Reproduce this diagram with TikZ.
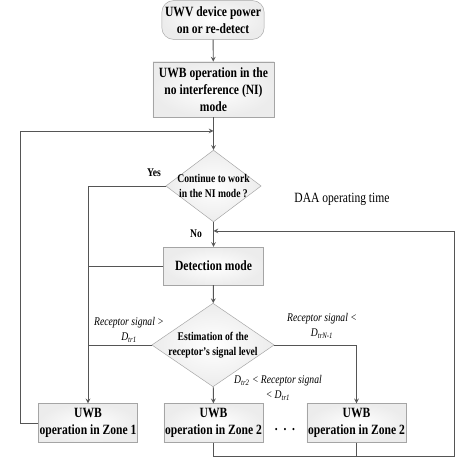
\documentclass[tikz,border=0pt]{standalone}
\usepackage{fontspec}
\setmainfont{Liberation Serif}[FakeStretch=0.82]
\usetikzlibrary{shapes}

\definecolor{lineGray}{RGB}{85,85,85}
\definecolor{boxGray}{RGB}{165,165,165}
\definecolor{boxEdge}{RGB}{236,236,236}
\newcommand{\Dtr}[1]{D\textsubscript{#1}}

\begin{document}
\begin{tikzpicture}
[x=0.85pt,y=-0.85pt,%
  lineDecorate/.style={-,draw=lineGray,line width=0.8pt},
  arrowDecorate/.style={lineDecorate,->,>=stealth},
  boxDecorate/.style={shape=rectangle,draw=boxGray,shading=radial,
    inner color=white,outer color=boxEdge,align=center,
    inner sep=1pt,font=\fontsize{12}{14.5}\selectfont\bfseries},
  diamondDecorate/.style={shape=diamond,draw=boxGray,shading=radial,
    inner color=white,outer color=boxEdge,inner sep=0pt},
  diamondText/.style={align=center,font=\fontsize{10}{12.5}\selectfont\bfseries},
  flowLabel/.style={font=\fontsize{10}{12}\selectfont\bfseries},
  condLabel/.style={align=center,font=\fontsize{10}{12.5}\selectfont\itshape}]
\useasboundingbox[fill=white] (0,0) rectangle (474,466);
%%
%%%%%%%%%%%%%%%%%%%%%%%%%%%%%%%%%%%%%%%%%%%%%%%%%%%%%%%%%%%%%%%%%%%%%%%%%%%
%%
%% boxes
\node (start) at (213,20) [boxDecorate,rounded corners=10pt,
  minimum width=87pt,minimum height=33pt] {UWV device power\\on or re-detect};
\node (ni) at (213.5,89.5) [boxDecorate,minimum width=103pt,minimum height=47pt]
  {UWB operation in the\\no interference (NI)\\mode};
\node (detect) at (213.5,266) [boxDecorate,minimum width=85pt,minimum height=32pt]
  {Detection mode};
\foreach \nodename/\x/\n in {
  z1/88/1, z2/213.5/2, z3/356.5/2}
{
  \node (\nodename) at (\x,423) [boxDecorate,minimum width=84pt,minimum height=33pt,
    font=\fontsize{12}{15}\selectfont\bfseries] {UWB\\operation in Zone~\n};
}
%% decisions
\node (d1) at (213.5,186) [diamondDecorate,minimum width=81pt,minimum height=61pt,
  label={[diamondText]center:Continue to work\\in the NI mode ?}] {};
\node (d2) at (213,345) [diamondDecorate,minimum width=104pt,minimum height=71pt,
  label={[diamondText]center:Estimation of the\\receptor's signal level}] {};
%%
%%%%%%%%%%%%%%%%%%%%%%%%%%%%%%%%%%%%%%%%%%%%%%%%%%%%%%%%%%%%%%%%%%%%%%%%%%%
%%
%% main flow
\path
\foreach \startnode/\endnode in {
  start/ni, ni/d1, d1/detect, detect/d2, d2/z2}
{
  (\startnode) edge[arrowDecorate] (\endnode)
};
%% branches
\draw[arrowDecorate] (d1.west) -| (z1.north);
\draw[lineDecorate] (detect.west) -- (detect.west -| z1.north);
\draw[lineDecorate] (d2.west) -- (d2.west -| z1.north);
\draw[arrowDecorate] (d2.east) -| (z3.north);
%% feedback loops
\coordinate (loopInL) at (213.5,131);
\coordinate (loopCornerL) at (20,131);
\coordinate (loopInR) at (213.5,231);
\coordinate (loopCornerR) at (454,456);
\draw[arrowDecorate] (z1.west) -| (loopCornerL) -- (loopInL);
\draw[arrowDecorate] (z2.south) |- (loopCornerR) |- (loopInR);
\draw[lineDecorate] (z3.south) -- (z3.south |- loopCornerR);
%%
%%%%%%%%%%%%%%%%%%%%%%%%%%%%%%%%%%%%%%%%%%%%%%%%%%%%%%%%%%%%%%%%%%%%%%%%%%%
%%
%% labels
\node (lblYes) at (154,173) [flowLabel] {Yes};
\node (lblNo) at (196,234) [flowLabel] {No};
\node (lblDAA) at (342,199) [font=\fontsize{12}{14}\selectfont] {DAA operating time};
\node (lblZ1) at (129,330) [condLabel] {Receptor signal \textgreater\\\Dtr{tr1}};
\node (lblZN) at (322,326) [condLabel] {Receptor signal \textless\\\Dtr{trN-1}};
\node (lblZ2) at (278,388) [condLabel]
  {\Dtr{tr2} \textless{} Receptor signal\\\textless{} \Dtr{tr1}};
\node (dots) at (285,430) [font=\fontsize{12}{14}\selectfont\bfseries] {.\ \ .\ \ .};
\end{tikzpicture}
\end{document}
